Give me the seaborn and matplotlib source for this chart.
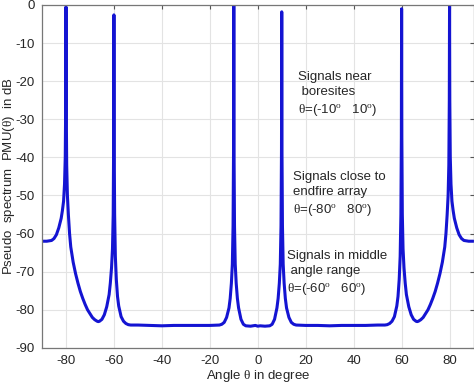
import matplotlib
matplotlib.use("Agg")
import pandas as pd
import seaborn as sns
import matplotlib.pyplot as plt

# Valores (angulo en grados, espectro en dB)
angulo = [-90, -88, -86, -85, -84, -83, -82, -81.5, -81, -80.6, -80.3, -80.1, -80,
          -79.9, -79.7, -79.4, -79, -78.5, -78, -77, -76, -75, -74, -73, -72, -71,
          -70, -69, -68, -67, -66.5, -66, -65, -64, -63, -62, -61.5, -61, -60.6,
          -60.3, -60.1, -60, -59.9, -59.7, -59.4, -59, -58.5, -58, -57, -56, -55,
          -54, -53, -50, -45, -40, -35, -30, -25, -20, -16, -15, -14, -13, -12,
          -11.5, -11, -10.6, -10.3, -10.1, -10, -9.9, -9.7, -9.4, -9, -8.5, -8,
          -7, -6, -5, -3, -1, 0, 1, 3, 5, 6, 7, 8, 8.5, 9, 9.4, 9.7, 9.9, 10,
          10.1, 10.3, 10.6, 11, 11.5, 12, 13, 14, 15, 16, 20, 25, 30, 35, 40, 45,
          50, 53, 54, 55, 56, 57, 58, 58.5, 59, 59.4, 59.7, 59.9, 60, 60.1, 60.3,
          60.6, 61, 61.5, 62, 63, 64, 65, 66, 66.5, 67, 68, 69, 70, 71, 72, 73,
          74, 75, 76, 77, 78, 78.5, 79, 79.4, 79.7, 79.9, 80, 80.1, 80.3, 80.6,
          81, 81.5, 82, 83, 84, 85, 86, 88, 90]
espectro_db = [-62, -62, -61.8, -61.3, -60.3, -58.5, -56, -54, -51.5, -47, -40, -25, -0.5,
               -25, -42, -50, -55, -60, -63.5, -67.5, -70.5, -73, -75.2, -77, -78.6, -80,
               -81, -82, -82.6, -83, -83.1, -83, -82.5, -81.3, -79.2, -76, -73, -69, -64,
               -55, -35, -2.6, -35, -55, -66, -72, -76.5, -79, -81.8, -83, -83.6,
               -83.9, -84, -84, -84.1, -84.2, -84.1, -84.1, -84.1, -84.1, -84, -83.8, -83.3, -82, -79.5,
               -77, -73, -68, -58, -38, 0, -38, -58, -68, -73, -77, -79.5,
               -82.5, -83.8, -84.2, -84.3, -84.1, -84.3, -84.2, -84.3, -84.2, -83.8, -82.5, -79.5, -77, -73, -68, -58, -38, -1.8,
               -38, -58, -68, -73, -77, -79.5, -82, -83.3, -83.8, -84, -84.1, -84.1, -84.2, -84.1, -84.1, -84.1,
               -84, -84, -83.9, -83.6, -83, -81.8, -79, -76.5, -72, -66, -55, -35, -1, -35, -55,
               -64, -69, -73, -76, -79.2, -81.3, -82.5, -83, -83.1, -83, -82.6, -82, -81, -80, -78.6, -77,
               -75.2, -73, -70.5, -67.5, -63.5, -60, -55, -50, -42, -25, 0, -25, -40, -47,
               -51.5, -54, -56, -58.5, -60.3, -61.3, -61.8, -62, -62]

xticks = [-80, -60, -40, -20, 0, 20, 40, 60, 80]
yticks = [0, -10, -20, -30, -40, -50, -60, -70, -80, -90]

df = pd.DataFrame({"Angulo": angulo, "dB": espectro_db})

sns.set_style("white")
plt.rcParams["font.family"] = ["Liberation Sans", "DejaVu Sans"]
plt.rcParams["axes.unicode_minus"] = False
plt.rcParams["mathtext.fontset"] = "custom"
plt.rcParams["mathtext.rm"] = "Liberation Sans"
plt.rcParams["mathtext.it"] = "Liberation Serif"

fig = plt.figure(figsize=(4.74, 3.84), dpi=100)
ax = fig.add_axes([0.0886, 0.094, 0.9104, 0.893])

sns.lineplot(data=df, x="Angulo", y="dB", color="#1414d2", linewidth=2.2,
             estimator=None, sort=False, ax=ax)

ax.set_xlim(-90, 90)
ax.set_ylim(-90, 0)
ax.set_xticks(xticks)
ax.set_yticks(yticks)
ax.grid(True, color="#e3e3e3", linewidth=0.8)
ax.set_axisbelow(True)
ax.tick_params(direction="in", top=True, right=True, labelsize=9.5, length=3,
               color="#555555", pad=5)
for s in ax.spines.values():
    s.set_color("#777777")
    s.set_linewidth(0.9)

ax.set_xlabel(r"Angle $\mathit{\theta}$ in degree", fontsize=9.5, va="top")
ax.set_ylabel(r"Pseudo  spectrum  PMU($\mathit{\theta}$)  in dB", fontsize=9.5)
ax.xaxis.set_label_coords(0.5, -0.058)
ax.yaxis.set_label_coords(-0.058, 0.5)

# Anotaciones
ax.text(16.7, -17.3, "Signals near\n boresites\n" + r"$\mathit{\theta}$=(-10$^{o}$   10$^{o}$)",
        fontsize=9.5, va="top", ha="left", linespacing=1.35)
ax.text(14.5, -43.6, "Signals close to\nendfire array\n" + r"$\mathit{\theta}$=(-80$^{o}$   80$^{o}$)",
        fontsize=9.5, va="top", ha="left", linespacing=1.35)
ax.text(12.1, -64.2, "Signals in middle\n angle range\n" + r"$\mathit{\theta}$=(-60$^{o}$   60$^{o}$)",
        fontsize=9.5, va="top", ha="left", linespacing=1.35)

fig.savefig("out.png", dpi=100)
